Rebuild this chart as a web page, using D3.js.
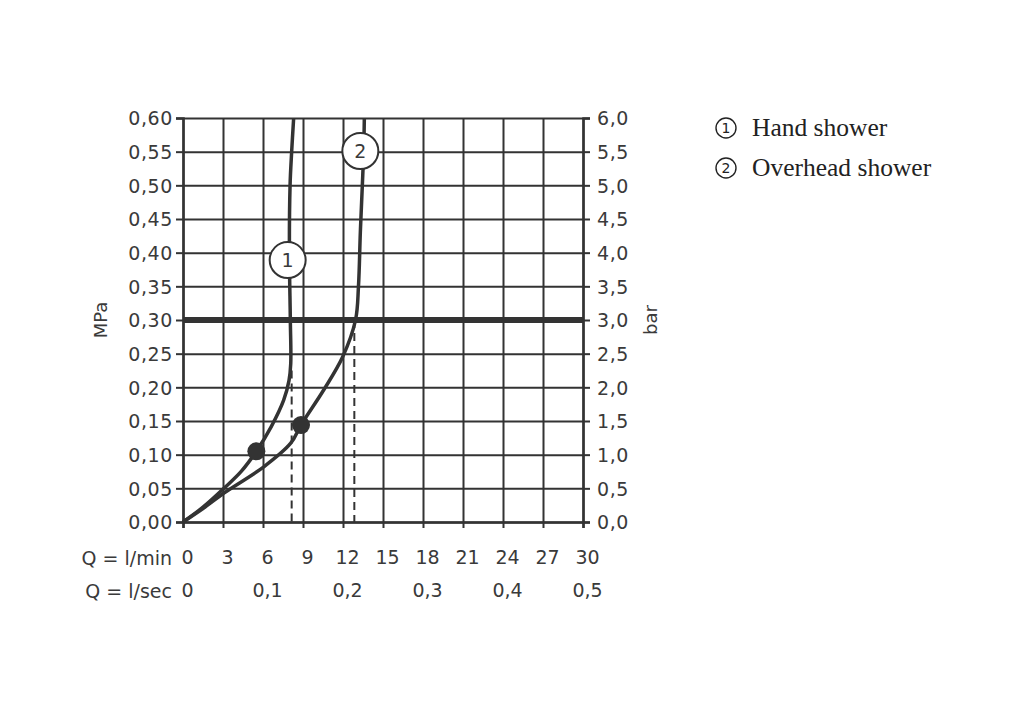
<!DOCTYPE html>
<html>
<head>
<meta charset="utf-8">
<script src="https://cdn.jsdelivr.net/npm/d3@7"></script>
<style>
  body { margin: 0; background: #fff; }
  svg text { font-family: "DejaVu Sans", sans-serif; fill: #3a3a3a; }
  .legend text { font-family: "Liberation Serif", serif; fill: #222; }
</style>
</head>
<body>
<svg width="1027" height="702"></svg>
<script>
// flow (l/min) vs pressure (MPa)
const handQ = [0, 1.5, 3.07, 4.4, 5.5, 6.6, 7.55, 7.95, 8.08, 8.05, 7.98, 8.03, 8.15, 8.3];
const handP = [0, 0.022, 0.05, 0.076, 0.105, 0.141, 0.181, 0.21, 0.235, 0.30, 0.40, 0.50, 0.55, 0.60];
const overQ = [0, 1.5, 3.07, 6.06, 8.08, 8.85, 10.55, 11.97, 12.94, 13.16, 13.3, 13.45, 13.55, 13.6];
const overP = [0, 0.02, 0.043, 0.082, 0.117, 0.144, 0.196, 0.245, 0.30, 0.35, 0.43, 0.50, 0.55, 0.60];
const dotQ = [5.5, 8.85];
const dotP = [0.105, 0.144];
const dashQ = [8.15, 12.85];
const dashTop = [0.225, 0.30];
const tagQ = [7.85, 13.3];
const tagP = [0.389, 0.551];
const tagNames = ['1', '2'];
const legendNames = ['Hand shower', 'Overhead shower'];
const refP = 0.30;
const mpaTicks = [0, 0.05, 0.1, 0.15, 0.2, 0.25, 0.3, 0.35, 0.4, 0.45, 0.5, 0.55, 0.6];
const barTicks = [0, 0.5, 1, 1.5, 2, 2.5, 3, 3.5, 4, 4.5, 5, 5.5, 6];
const minTicks = [0, 3, 6, 9, 12, 15, 18, 21, 24, 27, 30];
const secTicks = [0, 0.1, 0.2, 0.3, 0.4, 0.5];

const svg = d3.select('svg');
const pLeft = 183, pRight = 583, pTop = 118, pBottom = 522;

const x = d3.scaleLinear().domain([0, 30]).range([pLeft, pRight]);
const xSec = d3.scaleLinear().domain([0, 0.5]).range([pLeft, pRight]);
const y = d3.scaleLinear().domain([0, 0.6]).range([pBottom, pTop]);
const yBar = d3.scaleLinear().domain([0, 6]).range([pBottom, pTop]);
const comma = (d, n) => d.toFixed(n).replace('.', ',');

// grid
svg.append('g')
  .attr('transform', `translate(${pLeft},0)`)
  .call(d3.axisLeft(y).tickValues(mpaTicks).tickSize(-(pRight - pLeft)).tickFormat(''))
  .call(g => g.select('.domain').remove())
  .selectAll('line').attr('stroke', '#333').attr('stroke-width', 2);
svg.append('g')
  .attr('transform', `translate(0,${pBottom})`)
  .call(d3.axisBottom(x).tickValues(minTicks).tickSize(-(pBottom - pTop)).tickFormat(''))
  .call(g => g.select('.domain').remove())
  .selectAll('line').attr('stroke', '#333').attr('stroke-width', 2);

// left axis MPa
svg.append('g')
  .attr('transform', `translate(${pLeft},0)`)
  .call(d3.axisLeft(y).tickValues(mpaTicks).tickSize(7).tickPadding(3).tickFormat(d => comma(d, 2)))
  .call(g => g.select('.domain').attr('stroke', '#333').attr('stroke-width', 2.5))
  .call(g => g.selectAll('line').attr('stroke', '#333').attr('stroke-width', 2))
  .selectAll('text').attr('font-size', 19).attr('dy', '0.36em').attr('letter-spacing', 0.6);

// right axis bar
svg.append('g')
  .attr('transform', `translate(${pRight},0)`)
  .call(d3.axisRight(yBar).tickValues(barTicks).tickSize(7).tickPadding(7).tickFormat(d => comma(d, 1)))
  .call(g => g.select('.domain').attr('stroke', '#333').attr('stroke-width', 2.5))
  .call(g => g.selectAll('line').attr('stroke', '#333').attr('stroke-width', 2))
  .selectAll('text').attr('font-size', 19).attr('dy', '0.36em').attr('letter-spacing', 0.6);

// bottom axis l/min
svg.append('g')
  .attr('transform', `translate(0,${pBottom})`)
  .call(d3.axisBottom(x).tickValues(minTicks).tickSize(6).tickPadding(23).tickFormat(d => d))
  .call(g => g.select('.domain').attr('stroke', '#333').attr('stroke-width', 2.5))
  .call(g => g.selectAll('line').attr('stroke', '#333').attr('stroke-width', 2))
  .selectAll('text').attr('font-size', 19).attr('dx', 4);

// l/sec row
svg.append('g')
  .attr('transform', `translate(0,${pBottom})`)
  .call(d3.axisBottom(xSec).tickValues(secTicks).tickSize(0).tickPadding(62).tickFormat(d => d === 0 ? '0' : comma(d, 1)))
  .call(g => g.select('.domain').remove())
  .selectAll('text').attr('font-size', 19).attr('dx', 4);

svg.append('text').attr('x', 172).attr('y', 565).attr('text-anchor', 'end')
  .attr('font-size', 19).text('Q = l/min');
svg.append('text').attr('x', 172).attr('y', 598).attr('text-anchor', 'end')
  .attr('font-size', 19).text('Q = l/sec');

svg.append('text').attr('transform', `translate(107,${y(0.3)}) rotate(-90)`)
  .attr('text-anchor', 'middle').attr('font-size', 18).text('MPa');
svg.append('text').attr('transform', `translate(657,${y(0.3)}) rotate(-90)`)
  .attr('text-anchor', 'middle').attr('font-size', 18).text('bar');

// reference line 3 bar
svg.append('line')
  .attr('x1', x(0)).attr('x2', x(30) + 1)
  .attr('y1', y(refP)).attr('y2', y(refP))
  .attr('stroke', '#333').attr('stroke-width', 6);

// dashed drops
svg.selectAll('.drop').data(dashQ).enter().append('line')
  .attr('x1', d => x(d)).attr('x2', d => x(d))
  .attr('y1', (d, i) => y(dashTop[i])).attr('y2', y(0))
  .attr('stroke', '#333').attr('stroke-width', 2).attr('stroke-dasharray', '8,5');

// curves
const curveLine = d3.line().x(p => x(p[0])).y(p => y(p[1])).curve(d3.curveCatmullRom);
const series = [d3.zip(handQ, handP), d3.zip(overQ, overP)];
svg.selectAll('.curve').data(series).enter().append('path')
  .attr('d', curveLine)
  .attr('fill', 'none').attr('stroke', '#333').attr('stroke-width', 3.5);

svg.selectAll('.dot').data(dotQ).enter().append('circle')
  .attr('cx', d => x(d)).attr('cy', (d, i) => y(dotP[i])).attr('r', 9)
  .attr('fill', '#333');

// curve tags
const tags = svg.selectAll('.tag').data(tagNames).enter().append('g')
  .attr('transform', (d, i) => `translate(${x(tagQ[i])},${y(tagP[i])})`);
tags.append('circle').attr('r', 18).attr('fill', '#fff').attr('stroke', '#333').attr('stroke-width', 2);
tags.append('text').attr('text-anchor', 'middle').attr('dy', '0.36em')
  .attr('font-size', 19).text(d => d);

// legend
const leg = svg.append('g').attr('class', 'legend');
const li = leg.selectAll('g').data(legendNames).enter().append('g')
  .attr('transform', (d, i) => `translate(726,${128 + i * 40})`);
li.append('circle').attr('r', 10).attr('fill', 'none').attr('stroke', '#222').attr('stroke-width', 1.4);
li.append('text').attr('text-anchor', 'middle').attr('dy', '0.36em').attr('font-size', 14)
  .style('font-family', '"DejaVu Sans", sans-serif').text((d, i) => tagNames[i]);
li.append('text').attr('x', 26).attr('dy', '0.33em').attr('font-size', 25.5).text(d => d);
</script>
</body>
</html>
